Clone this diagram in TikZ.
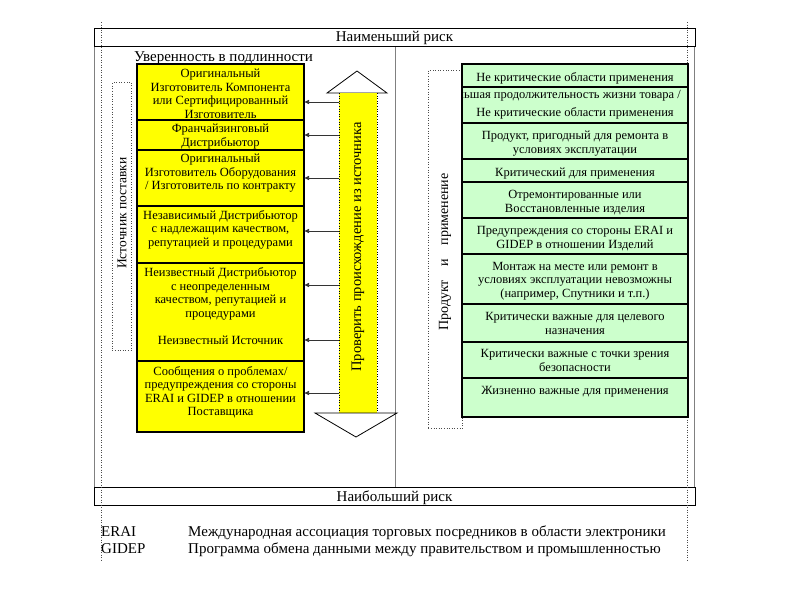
\documentclass[tikz,border=0pt]{standalone}
\usepackage{fontspec}
\setmainfont{Liberation Serif}
\usetikzlibrary{arrows.meta,calc}
\definecolor{lgreen}{HTML}{CCFFCC}
\definecolor{yel}{HTML}{FFFF00}
\definecolor{framegray}{HTML}{808080}
\begin{document}
\begin{tikzpicture}[x=1pt,y=-1pt,
  hdr/.style={font=\fontsize{15}{17}\selectfont, inner sep=0pt},
  foot/.style={font=\fontsize{15}{17}\selectfont, inner sep=0pt},
  btxt/.style={font=\fontsize{12.5}{13.6}\selectfont, align=center, inner sep=0pt, anchor=north},
  ybox/.style={draw=black, line width=1.3pt, fill=yel, anchor=north west, inner sep=0pt, outer sep=0pt, minimum width=167pt},
  gbox/.style={draw=black, line width=1.3pt, fill=lgreen, anchor=north west, inner sep=0pt, outer sep=0pt, minimum width=226pt},
  arr/.style={-{Latex[length=5pt,width=4.5pt]}, line width=0.6pt, draw=black!80},
  frameline/.style={draw=framegray, line width=1pt},
  margin/.style={draw=black!70, dotted, line width=0.5pt},
  dotbox/.style={draw=black!70, dotted, line width=0.6pt}
]
\useasboundingbox (0,0) rectangle (800,600);

% outer frame
\draw[frameline] (94,46) -- (94,487);
\draw[frameline] (694,46) -- (694,487);
\draw[frameline] (395,46) -- (395,487);

% header and footer
\node[draw=black, line width=1.4pt, minimum width=601pt, minimum height=18pt, inner sep=0pt, anchor=north west] (top) at (94,28) {};
\node[hdr, anchor=base] (toptxt) at (394.5,41) {Наименьший риск};
\node[draw=black, line width=1.4pt, minimum width=601pt, minimum height=18pt, inner sep=0pt, anchor=north west] (bot) at (94,487) {};
\node[hdr, anchor=base] (bottxt) at (394.5,501) {Наибольший риск};

% page margin lines
\coordinate (ml1) at (101,22); \coordinate (ml2) at (101,560);
\coordinate (mr1) at (687,22); \coordinate (mr2) at (687,560);
\draw[margin] (ml1) -- (ml2);
\draw[margin] (mr1) -- (mr2);

% left heading
\node[hdr, anchor=base west] (conf) at (134,61.5) {Уверенность в подлинности};

% left dotted box
\node[dotbox, minimum width=19pt, minimum height=268pt, inner sep=0pt, anchor=north west] (src) at (112,82) {};
\node[rotate=90, font=\fontsize{13.5}{15}\selectfont, inner sep=0pt] (srctxt) at (122,213) {Источник поставки};

% yellow boxes
\node[ybox, minimum height=56pt] (y1) at (137,64) {};
\node[ybox, minimum height=30pt] (y2) at (y1.south west) {};
\node[ybox, minimum height=56pt] (y3) at (y2.south west) {};
\node[ybox, minimum height=57pt] (y4) at (y3.south west) {};
\node[ybox, minimum height=98pt] (y5) at (y4.south west) {};
\node[ybox, minimum height=71pt] (y6) at (y5.south west) {};

\node[btxt] (yt1) at ($(y1.north)+(0,5)$) {Оригинальный\\Изготовитель Компонента\\или Сертифицированный\\Изготовитель};
\node[btxt] (yt2) at ($(y2.north)+(0,4)$) {Франчайзинговый\\Дистрибьютор};
\node[btxt] (yt3) at ($(y3.north)+(0,4)$) {Оригинальный\\Изготовитель Оборудования\\/ Изготовитель по контракту};
\node[btxt] (yt4) at ($(y4.north)+(0,4)$) {Независимый Дистрибьютор\\с надлежащим качеством,\\репутацией и процедурами};
\node[btxt] (yt5) at ($(y5.north)+(0,4.5)$) {Неизвестный Дистрибьютор\\с неопределенным\\качеством, репутацией и\\процедурами\\[13.6pt]Неизвестный Источник};
\node[btxt] (yt6) at ($(y6.north)+(0,5)$) {Сообщения о проблемах/\\предупреждения со стороны\\ERAI и GIDEP в отношении\\Поставщика};

% double arrow bar
\fill[white] (327,93) -- (357,71) -- (387,93) -- cycle;
\draw[line width=0.8pt] (327,93) -- (357,71) -- (387,93) -- cycle;
\node[fill=yel, minimum width=38pt, minimum height=320pt, inner sep=0pt, anchor=north west] (bar) at (339,93) {};
\draw[dotbox, draw=black] (bar.north west) -- (bar.south west);
\draw[dotbox, draw=black] (bar.north east) -- (bar.south east);
\draw[line width=0.8pt, fill=white] (315,413) -- (397,413) -- (356,437) -- cycle;
\node[rotate=90, font=\fontsize{14.5}{16}\selectfont, inner sep=0pt] (bartxt) at (358,247) {Проверить происхождение из источника};

% arrows from bar to boxes
\draw[arr] (bar.west |- 0,102) -- (y1.east |- 0,102);
\draw[arr] (bar.west |- 0,135) -- (y2.east |- 0,135);
\draw[arr] (bar.west |- 0,178) -- (y3.east |- 0,178);
\draw[arr] (bar.west |- 0,231) -- (y4.east |- 0,231);
\draw[arr] (bar.west |- 0,285) -- (y5.east |- 0,285);
\draw[arr] (bar.west |- 0,340) -- (y5.east |- 0,340);
\draw[arr] (bar.west |- 0,393) -- (y6.east |- 0,393);

% right dotted box
\node[dotbox, minimum width=34pt, minimum height=358pt, inner sep=0pt, anchor=north west] (prod) at (428,70) {};
\node[rotate=90, font=\fontsize{14}{16}\selectfont, inner sep=0pt] (prodtxt) at (445,252) {Продукт\hspace{10pt} и\hspace{10pt} применение};

% green boxes
\node[gbox, minimum height=23pt] (g1) at (462,64) {};
\node[gbox, minimum height=36pt] (g2) at (g1.south west) {};
\node[gbox, minimum height=36pt] (g3) at (g2.south west) {};
\node[gbox, minimum height=23pt] (g4) at (g3.south west) {};
\node[gbox, minimum height=36pt] (g5) at (g4.south west) {};
\node[gbox, minimum height=36pt] (g6) at (g5.south west) {};
\node[gbox, minimum height=50pt] (g7) at (g6.south west) {};
\node[gbox, minimum height=38pt] (g8) at (g7.south west) {};
\node[gbox, minimum height=36pt] (g9) at (g8.south west) {};
\node[gbox, minimum height=39pt] (g10) at (g9.south west) {};

\node[btxt] (gt1) at ($(g1.north)+(0,8.5)$) {Не критические области применения};
\begin{scope}
\clip (462,87) rectangle (688,123);
\node[btxt, anchor=base east] (gt2a) at (681,98.5) {Большая продолжительность жизни товара /};
\end{scope}
\node[btxt, anchor=base] (gt2b) at (575,116) {Не критические области применения};
\node[btxt] (gt3) at ($(g3.north)+(0,8)$) {Продукт, пригодный для ремонта в\\условиях эксплуатации};
\node[btxt] (gt4) at ($(g4.north)+(0,9)$) {Критический для применения};
\node[btxt] (gt5) at ($(g5.north)+(0,8)$) {Отремонтированные или\\Восстановленные изделия};
\node[btxt] (gt6) at ($(g6.north)+(0,8)$) {Предупреждения со стороны ERAI и\\GIDEP в отношении Изделий};
\node[btxt] (gt7) at ($(g7.north)+(0,7.7)$) {Монтаж на месте или ремонт в\\условиях эксплуатации невозможны\\(например, Спутники и т.п.)};
\node[btxt] (gt8) at ($(g8.north)+(0,8.5)$) {Критически важные для целевого\\назначения};
\node[btxt] (gt9) at ($(g9.north)+(0,7.5)$) {Критически важные с точки зрения\\безопасности};
\node[btxt] (gt10) at ($(g10.north)+(0,8)$) {Жизненно важные для применения};

% footnotes
\node[foot, anchor=base west] (erai) at (101,536) {ERAI};
\node[foot, anchor=base west] (eraid) at (188,536) {Международная ассоциация торговых посредников в области электроники};
\node[foot, anchor=base west] (gidep) at (101,553) {GIDEP};
\node[foot, anchor=base west] (gidepd) at (188,553) {Программа обмена данными между правительством и промышленностью};
\end{tikzpicture}
\end{document}
